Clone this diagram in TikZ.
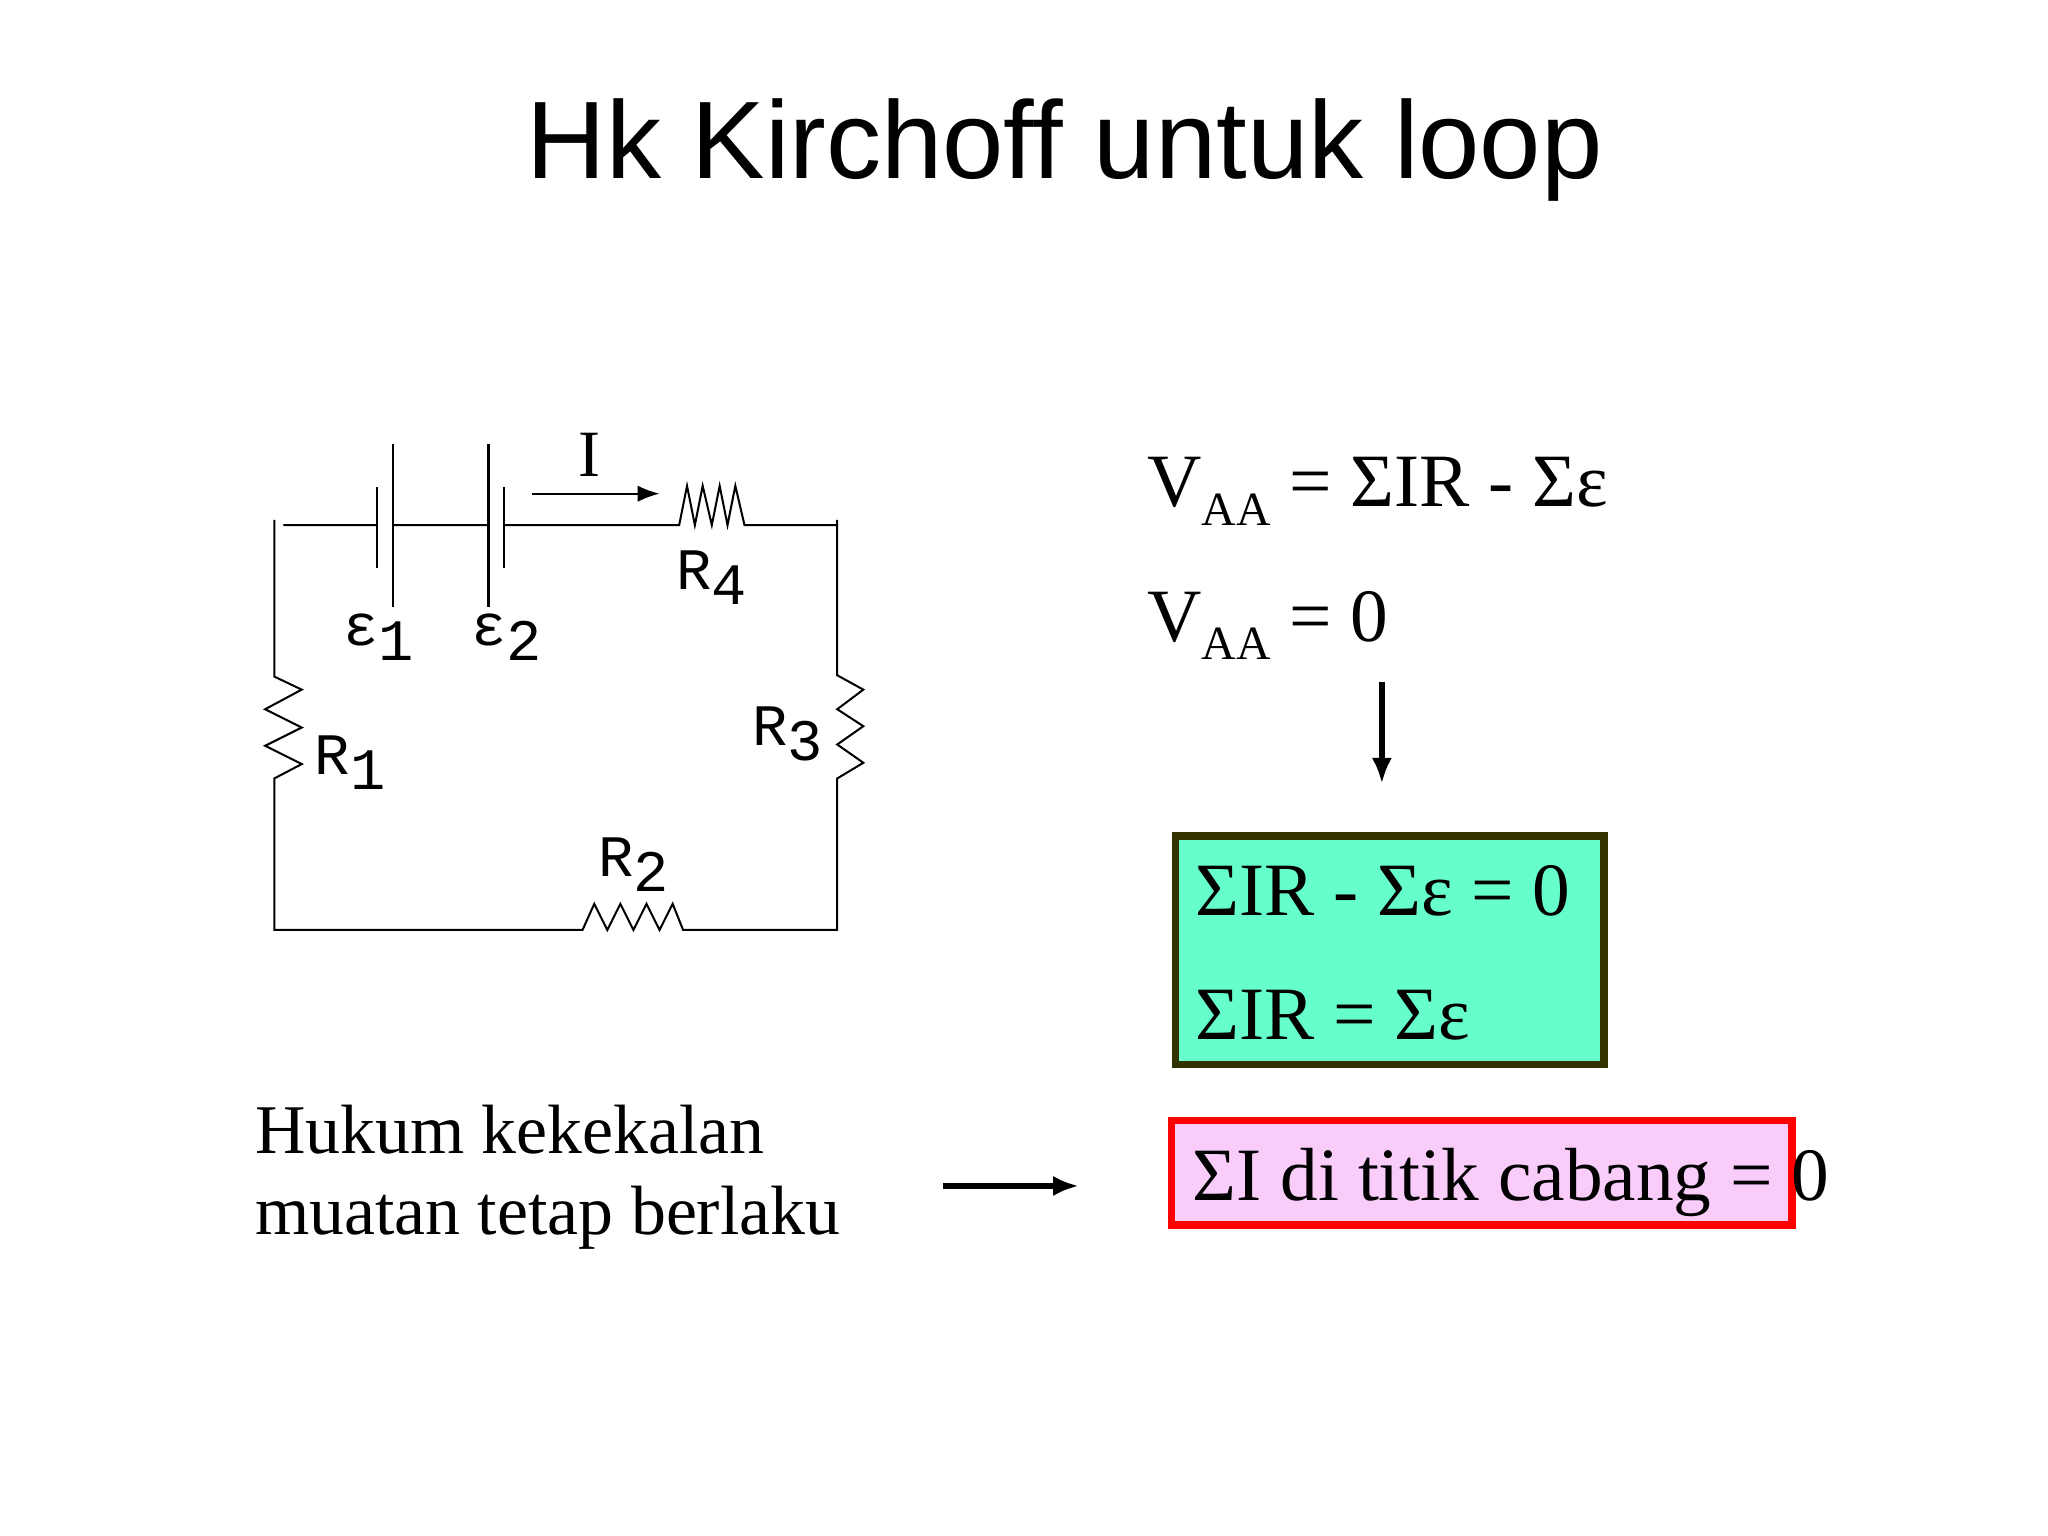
\documentclass[tikz,border=0pt]{standalone}
\usepackage{fontspec}
\setmainfont{Liberation Serif}
\newfontfamily\titlefont{Liberation Sans}
\newfontfamily\cfont{Liberation Mono}
\begin{document}
\begin{tikzpicture}[x=0.025cm,y=-0.025cm,
  wire/.style={line width=1.1pt,black},
  eq/.style={font=\fontsize{41}{48}\selectfont,anchor=base west,inner sep=0},
  clab/.style={font=\cfont\fontsize{32}{36}\selectfont,inner sep=0},
  big/.style={line width=3pt,-{Latex[length=14pt,width=11pt]}}]
\usetikzlibrary{arrows.meta}
\useasboundingbox (0,0) rectangle (1568,1176);
% title
\node[font=\titlefont\fontsize{60}{70}\selectfont] (title) at (815,115) {Hk Kirchoff untuk loop};
% circuit
\draw[wire] (210,398) -- (210,518) -- (231,528) -- (203,543) -- (231,557) -- (203,571) -- (231,585) -- (210,596) -- (210,712)
  -- (446,712) -- (455,692) -- (465,712) -- (475,692) -- (485,712) -- (495,692) -- (505,712) -- (515,692) -- (523,712) -- (641,712)
  -- (641,596) -- (661,584) -- (641,570) -- (661,556) -- (641,543) -- (661,528) -- (641,517) -- (641,398);
\draw[wire] (217,402) -- (289,402) (301,402) -- (374,402) (386,402) -- (520,402)
  -- (526,372) -- (532,402) -- (538,372) -- (545,402) -- (551,372) -- (557,402) -- (563,372) -- (570,402) -- (641,402);
\draw[wire] (289,373) -- (289,435) (301,340) -- (301,465) (374,340) -- (374,465) (386,373) -- (386,435);
\coordinate (ia) at (407,378); \coordinate (ib) at (505,378);
\draw[line width=1.3pt,-{Latex[length=12pt,width=9pt]}] (ia) -- (ib);
\node[font=\fontsize{36}{40}\selectfont] (I) at (451,348) {I};
\node[clab] (e1) at (290,488) {ε\raisebox{-8pt}{1}};
\node[clab] (e2) at (388,488) {ε\raisebox{-8pt}{2}};
\node[clab] (r4) at (545,442) {R\raisebox{-8pt}{4}};
\node[clab] (r1) at (268,584) {R\raisebox{-8pt}{1}};
\node[clab] (r3) at (603,562) {R\raisebox{-8pt}{3}};
\node[clab] (r2) at (485,662) {R\raisebox{-8pt}{2}};
% equations
\node[eq] (eq1) at (878,388) {V\raisebox{-10pt}{\fontsize{26}{30}\selectfont AA} = ΣIR - Σε};
\node[eq] (eq2) at (878,491) {V\raisebox{-10pt}{\fontsize{26}{30}\selectfont AA} = 0};
\coordinate (da) at (1058,522); \coordinate (db) at (1058,600);
\draw[big] (da) -- (db);
\draw[line width=4pt,draw={rgb,255:red,51;green,51;blue,0},fill={rgb,255:red,102;green,255;blue,204}] (900,640) rectangle (1228,815);
\node[eq] (b1) at (915,701) {ΣIR - Σε = 0};
\node[eq] (b2) at (915,796) {ΣIR = Σε};
\draw[line width=4pt,draw={rgb,255:red,255;green,0;blue,0},fill={rgb,255:red,250;green,204;blue,250}] (897,858) rectangle (1372,938);
\node[eq] (b3) at (913,919) {ΣI di titik cabang = 0};
\node[eq,font=\fontsize{38}{44}\selectfont] (h1) at (195,883) {Hukum kekekalan};
\node[eq,font=\fontsize{38}{44}\selectfont] (h2) at (195,945) {muatan tetap berlaku};
\coordinate (ha) at (722,908); \coordinate (hb) at (826,908);
\draw[big] (ha) -- (hb);
\end{tikzpicture}
\end{document}
